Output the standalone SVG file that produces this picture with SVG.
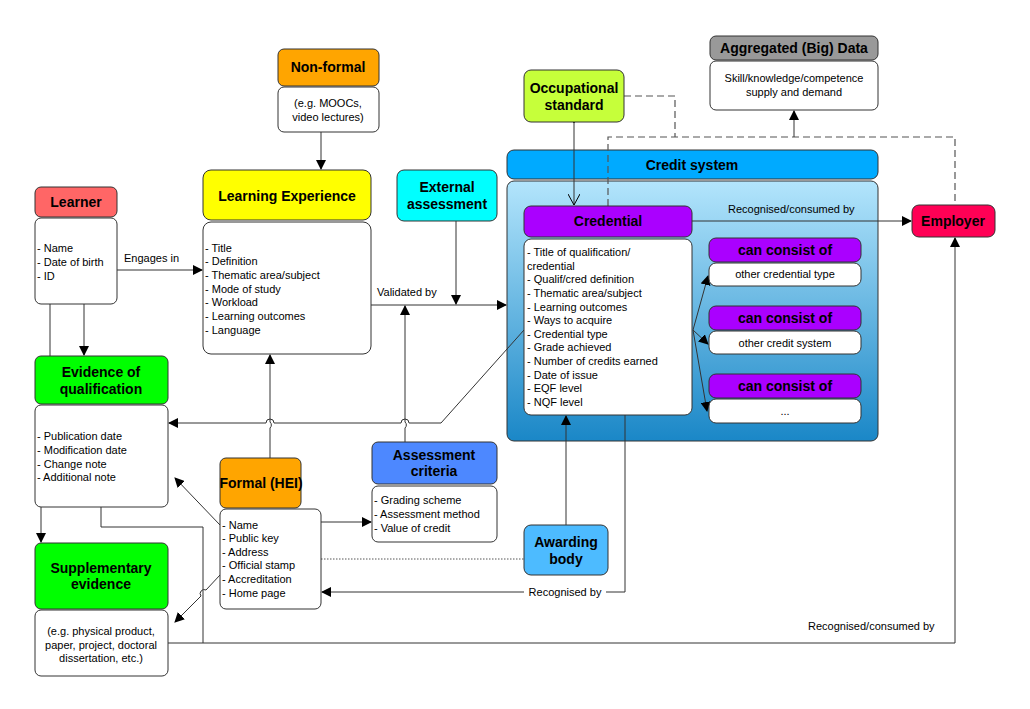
<svg xmlns="http://www.w3.org/2000/svg" width="1030" height="709" viewBox="0 0 1030 709">
<style>
text{font-family:"Liberation Sans",Arial,sans-serif;fill:#000}
.h{font-weight:bold;font-size:14px;text-anchor:middle}
.b{font-size:11px}
.c{font-size:11px;text-anchor:middle}
.bx{stroke:#333;stroke-width:1}
.w{fill:#fff;stroke:#333}
.ln{fill:none;stroke:#333;stroke-width:1}
.ds{fill:none;stroke:#555;stroke-width:1.2;stroke-dasharray:7,4}
.dt{fill:none;stroke:#555;stroke-dasharray:1.5,1.5}
</style>
<defs>
<marker id="a" markerWidth="10" markerHeight="10" refX="9" refY="5" orient="auto" markerUnits="userSpaceOnUse"><path d="M0,0L10,5L0,10z" fill="#000"/></marker>
<marker id="o" markerWidth="12" markerHeight="12" refX="11" refY="6" orient="auto" markerUnits="userSpaceOnUse"><path d="M0,0L11,6L0,12" fill="none" stroke="#000"/></marker>
<linearGradient id="g" x1="0" y1="0" x2="0" y2="1"><stop offset="0" stop-color="#B3E5FC"/><stop offset="1" stop-color="#1A87C7"/></linearGradient>
</defs>
<rect width="1030" height="709" fill="#fff"/>
<g id="credit-system">
<rect class="bx" x="507" y="150" width="371" height="29" rx="7" fill="#00AAFF"/>
<text class="h" x="692" y="170">Credit system</text>
<rect class="bx" x="507" y="181" width="371" height="260" rx="7" fill="url(#g)"/>
</g>
<g id="connectors">
<path class="ln" d="M117,270H202" marker-end="url(#a)"/><text class="b" x="124" y="262">Engages in</text>
<path class="ln" d="M84,304V355" marker-end="url(#a)"/>
<path class="ln" d="M50,304V356"/>
<path class="ln" d="M321,132V169" marker-end="url(#a)"/>
<path class="ln" d="M371,305H506" marker-end="url(#a)"/><text class="b" x="377" y="296">Validated by</text>
<path class="ln" d="M456,221V304" marker-end="url(#a)"/>
<path class="ln" d="M405,442V428a4,4 0 0 0 0,-6V306" marker-end="url(#a)"/>
<path class="ln" d="M270,458V428a4,4 0 0 0 0,-6V355" marker-end="url(#a)"/>
<path class="ln" d="M524,330L441,423H409a4,4 0 0 0 -8,0H274a4,4 0 0 0 -8,0H169" marker-end="url(#a)"/>
<path class="ln" d="M220,525L175,478" marker-end="url(#a)"/>
<path class="ln" d="M220,575L206,590a4,4 0 0 0 -5,6L175,622" marker-end="url(#a)"/>
<path class="ln" d="M101,507V527H203V643"/>
<path class="ln" d="M41,507V542" marker-end="url(#a)"/>
<path class="ln" d="M168,643H955V238" marker-end="url(#a)"/><text class="b" x="808" y="630">Recognised/consumed by</text>
<path class="ln" d="M321,522H371" marker-end="url(#a)"/>
<path class="dt" d="M321,559H524"/>
<path class="ln" d="M566,525V416" marker-end="url(#a)"/>
<path class="ln" d="M625,415V592H322" marker-end="url(#a)"/>
<rect x="524" y="585" width="82" height="14" fill="#fff"/><text class="c" x="565" y="596">Recognised by</text>
<path class="ln" d="M692,221H911" marker-end="url(#a)"/><text class="b" x="728" y="213">Recognised/consumed by</text>
<path class="ln" d="M574,123V205" marker-start="url(#o)" marker-end="url(#o)"/>
<path class="ds" d="M624,96H675V137"/>
<path class="ds" d="M608,206V137H955V205"/>
<path class="ln" d="M794,137V111" marker-end="url(#a)"/>
<path class="ln" d="M693,330L708,276" marker-end="url(#a)"/>
<path class="ln" d="M693,330L708,344" marker-end="url(#a)"/>
<path class="ln" d="M693,330L707,411" marker-end="url(#a)"/>
</g>
<g id="learner">
<rect class="bx" x="35" y="187" width="82" height="30" rx="6" fill="#FF6666"/><text class="h" x="76" y="207">Learner</text>
<rect class="w" x="35" y="218" width="82" height="86" rx="6"/>
<text class="b" x="37" y="252">- Name</text><text class="b" x="37" y="266">- Date of birth</text><text class="b" x="37" y="280">- ID</text>
</g>
<g id="evidence">
<rect class="bx" x="35" y="356" width="133" height="48" rx="6" fill="#00FF00"/><text class="h" x="101" y="377">Evidence of</text><text class="h" x="101" y="394">qualification</text>
<rect class="w" x="35" y="405" width="133" height="102" rx="6"/>
<text class="b" x="37" y="440">- Publication date</text><text class="b" x="37" y="454">- Modification date</text><text class="b" x="37" y="468">- Change note</text><text class="b" x="37" y="481">- Additional note</text>
</g>
<g id="supplementary">
<rect class="bx" x="35" y="543" width="133" height="66" rx="6" fill="#00FF00"/><text class="h" x="101" y="573">Supplementary</text><text class="h" x="101" y="589">evidence</text>
<rect class="w" x="35" y="610" width="133" height="66" rx="6"/>
<text class="c" x="101" y="635">(e.g. physical product,</text><text class="c" x="101" y="649">paper, project, doctoral</text><text class="c" x="101" y="662">dissertation, etc.)</text>
</g>
<g id="learning-experience">
<rect class="bx" x="203" y="170" width="168" height="50" rx="8" fill="#FFFF00"/><text class="h" x="287" y="201">Learning Experience</text>
<rect class="w" x="203" y="222" width="168" height="132" rx="8"/>
<text class="b" x="205" y="252">- Title</text><text class="b" x="205" y="265">- Definition</text><text class="b" x="205" y="279">- Thematic area/subject</text><text class="b" x="205" y="293">- Mode of study</text><text class="b" x="205" y="306">- Workload</text><text class="b" x="205" y="320">- Learning outcomes</text><text class="b" x="205" y="334">- Language</text>
</g>
<g id="non-formal">
<rect class="bx" x="278" y="49" width="101" height="37" rx="6" fill="#FFA500"/><text class="h" x="328" y="72">Non-formal</text>
<rect class="w" x="278" y="87" width="101" height="45" rx="6"/>
<text class="c" x="328" y="107">(e.g. MOOCs,</text><text class="c" x="328" y="121">video lectures)</text>
</g>
<g id="external">
<rect class="bx" x="397" y="170" width="100" height="51" rx="7" fill="#00FFFF"/><text class="h" x="447" y="192">External</text><text class="h" x="447" y="209">assessment</text>
</g>
<g id="formal">
<rect class="bx" x="220" y="458" width="81" height="50" rx="6" fill="#FFA500"/><text class="h" x="261" y="488">Formal (HEI)</text>
<rect class="w" x="220" y="509" width="101" height="100" rx="6"/>
<text class="b" x="222" y="529">- Name</text><text class="b" x="222" y="542">- Public key</text><text class="b" x="222" y="556">- Address</text><text class="b" x="222" y="569">- Official stamp</text><text class="b" x="222" y="583">- Accreditation</text><text class="b" x="222" y="597">- Home page</text>
</g>
<g id="assessment-criteria">
<rect class="bx" x="372" y="442" width="125" height="42" rx="6" fill="#4D88FF"/><text class="h" x="434" y="460">Assessment</text><text class="h" x="434" y="476">criteria</text>
<rect class="w" x="372" y="486" width="125" height="56" rx="6"/>
<text class="b" x="374" y="504">- Grading scheme</text><text class="b" x="374" y="518">- Assessment method</text><text class="b" x="374" y="532">- Value of credit</text>
</g>
<g id="awarding-body">
<rect class="bx" x="524" y="525" width="84" height="50" rx="7" fill="#4DBBFF"/><text class="h" x="566" y="547">Awarding</text><text class="h" x="566" y="564">body</text>
</g>
<g id="occupational">
<rect class="bx" x="524" y="70" width="100" height="52" rx="7" fill="#C6FF3A"/><text class="h" x="574" y="93">Occupational</text><text class="h" x="574" y="110">standard</text>
</g>
<g id="aggregated">
<rect class="bx" x="710" y="36" width="168" height="24" rx="6" fill="#999999"/><text class="h" x="794" y="53">Aggregated (Big) Data</text>
<rect class="w" x="710" y="61" width="168" height="49" rx="6"/>
<text class="c" x="794" y="82">Skill/knowledge/competence</text><text class="c" x="794" y="96">supply and demand</text>
</g>
<g id="credential">
<rect class="bx" x="524" y="206" width="168" height="31" rx="7" fill="#AA00FF"/><text class="h" x="608" y="226">Credential</text>
<rect class="w" x="524" y="239" width="168" height="176" rx="7"/>
<text class="b" x="527" y="256">- Title of qualification/</text><text class="b" x="527" y="270">credential</text><text class="b" x="527" y="283">- Qualif/cred definition</text><text class="b" x="527" y="297">- Thematic area/subject</text><text class="b" x="527" y="311">- Learning outcomes</text><text class="b" x="527" y="324">- Ways to acquire</text><text class="b" x="527" y="338">- Credential type</text><text class="b" x="527" y="351">- Grade achieved</text><text class="b" x="527" y="365">- Number of credits earned</text><text class="b" x="527" y="379">- Date of issue</text><text class="b" x="527" y="392">- EQF level</text><text class="b" x="527" y="406">- NQF level</text>
</g>
<g id="consist-1">
<rect class="bx" x="709" y="238" width="152" height="24" rx="7" fill="#AA00FF"/><text class="h" x="785" y="255">can consist of</text>
<rect class="w" x="709" y="263" width="152" height="23" rx="7"/><text class="c" x="785" y="278">other credential type</text>
</g>
<g id="consist-2">
<rect class="bx" x="709" y="306" width="152" height="24" rx="7" fill="#AA00FF"/><text class="h" x="785" y="323">can consist of</text>
<rect class="w" x="709" y="331" width="152" height="23" rx="7"/><text class="c" x="785" y="347">other credit system</text>
</g>
<g id="consist-3">
<rect class="bx" x="709" y="374" width="152" height="24" rx="7" fill="#AA00FF"/><text class="h" x="785" y="391">can consist of</text>
<rect class="w" x="709" y="399" width="152" height="24" rx="7"/><text class="c" x="785" y="415">...</text>
</g>
<g id="employer">
<rect class="bx" x="912" y="205" width="83" height="32" rx="7" fill="#FF0055"/><text class="h" x="953" y="226">Employer</text>
</g>
</svg>
